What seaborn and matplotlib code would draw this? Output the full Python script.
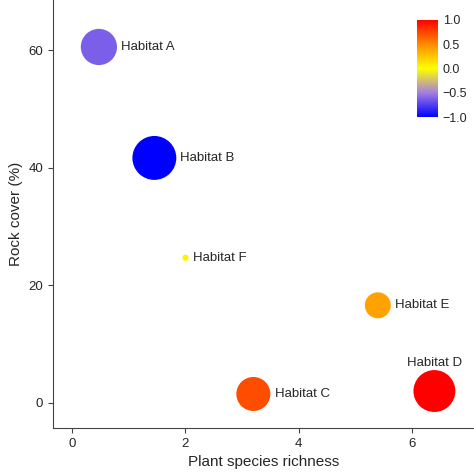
import pandas as pd
import matplotlib.pyplot as plt
import seaborn as sns
from matplotlib.colors import LinearSegmentedColormap, Normalize
from matplotlib.cm import ScalarMappable

habitats = ["Habitat A", "Habitat B", "Habitat C", "Habitat D", "Habitat E", "Habitat F"]
richness = [0.47, 1.45, 3.2, 6.4, 5.4, 2.0]
rock_cover = [60.6, 41.7, 1.5, 2.0, 16.6, 24.7]
effect = [-0.62, -1.0, 0.72, 1.0, 0.4, 0.05]
circle_size = [680, 1000, 600, 910, 350, 20]

df = pd.DataFrame({"habitat": habitats, "x": richness, "y": rock_cover,
                   "effect": effect, "size": circle_size})

sns.set_style("ticks")
plt.rcParams["font.family"] = ["Liberation Sans", "DejaVu Sans"]

cmap = LinearSegmentedColormap.from_list(
    "byr", ["#0000ff", "#a57ee0", "#ffff00", "#ff8c00", "#ff0000"])
norm = Normalize(-1, 1)

fig = plt.figure(figsize=(4.74, 4.74), dpi=100)
ax = fig.add_axes([0.112, 0.097, 0.888, 0.903])
sns.scatterplot(data=df, x="x", y="y", hue="effect", palette=cmap, hue_norm=norm,
                size="size", sizes=(min(circle_size), max(circle_size)),
                size_norm=Normalize(min(circle_size), max(circle_size)),
                legend=False, linewidth=0, ax=ax)

for _, r in df.iterrows():
    if r["habitat"] == "Habitat D":
        ax.annotate(r["habitat"], (r["x"], r["y"]), xytext=(0, 16), textcoords="offset points",
                    ha="center", va="bottom", fontsize=9.5)
    else:
        off = (r["size"] ** 0.5) / 2 + 3
        ax.annotate(r["habitat"], (r["x"], r["y"]), xytext=(off, 0), textcoords="offset points",
                    ha="left", va="center", fontsize=9.5)

ax.set_xlim(-0.34, 7.1)
ax.set_ylim(-4.3, 68.6)
ax.set_xticks([0, 2, 4, 6])
ax.set_yticks([0, 20, 40, 60])
ax.set_xlabel("Plant species richness", fontsize=11)
ax.set_ylabel("Rock cover (%)", fontsize=11)
ax.tick_params(labelsize=9.5, color="#444444")
for s in ["top", "right"]:
    ax.spines[s].set_visible(False)
for s in ["left", "bottom"]:
    ax.spines[s].set_color("#444444")

cax = fig.add_axes([0.880, 0.753, 0.044, 0.205])
cb = fig.colorbar(ScalarMappable(norm=norm, cmap=cmap), cax=cax, ticks=[-1, -0.5, 0, 0.5, 1])
cb.outline.set_visible(False)
cb.ax.tick_params(labelsize=9, length=4, color="white", direction="in")
cb.ax.set_yticklabels(["\u22121.0", "\u22120.5", "0.0", "0.5", "1.0"])

fig.savefig("out.png", dpi=100)
